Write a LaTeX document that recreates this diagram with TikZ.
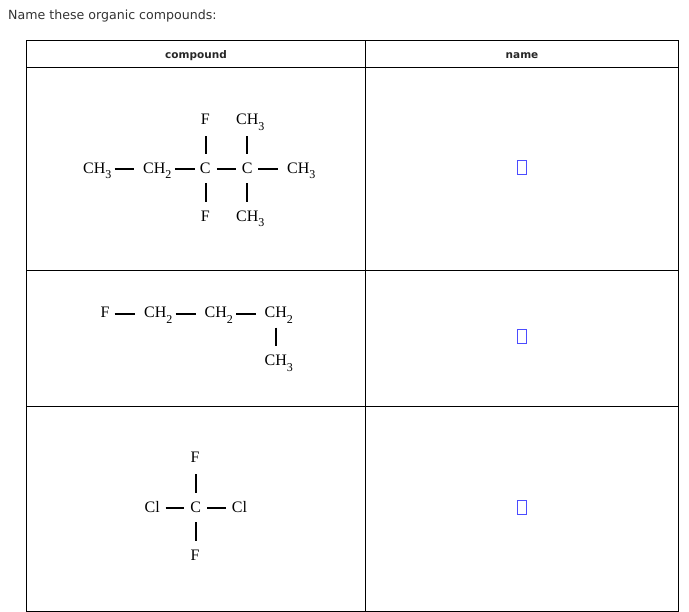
\documentclass[tikz,border=0pt]{standalone}
\usepackage{fontspec}
\setmainfont{Liberation Serif}
\setsansfont{DejaVu Sans}
\usetikzlibrary{positioning}
\newcommand{\chemsub}[1]{\raisebox{-5.5pt}{\fontsize{12}{12}\selectfont #1}}

\begin{document}
\begin{tikzpicture}[
    x=1pt, y=-1pt,
    node distance=48pt,
    atom/.style={
		inner sep=0pt,
		text height=10pt,
		text depth=2pt,
		font=\fontsize{16}{16}\selectfont
	},
	hbond/.style 2 args={
		line width=2.2pt,
		shorten <=#1pt,
		shorten >=#2pt
	},
	upbond/.style={
		line width=2.2pt,
		shorten <=9.3pt,
		shorten >=9pt
	},
	downbond/.style={
		line width=2.2pt,
		shorten <=7.7pt,
		shorten >=9pt
	},
	heading/.style={
		font=\sffamily\bfseries\fontsize{10.5}{10.5}\selectfont,
		text=black!85
	},
	answer/.style={
		rectangle,
		draw=blue!70,
		line width=1.2pt,
		inner sep=0pt,
		minimum width=8.5pt,
		minimum height=14pt
	}
  ]
  \useasboundingbox (0,0) rectangle (689,612);

  % the table
  \draw [line width=1pt] (26.5,40.5) rectangle (678.5,611);
  \draw [line width=1pt] (365.5,40.5) -- (365.5,611);
  \draw [line width=1pt] (26.5,67.5) -- (678.5,67.5);
  \draw [line width=1pt] (26.5,270.5) -- (678.5,270.5);
  \draw [line width=1pt] (26.5,406.5) -- (678.5,406.5);

  \node [anchor=west, inner sep=0pt, text=black!80, font=\sffamily\fontsize{12.6}{12.6}\selectfont] (title) at (8,16) {Name these organic compounds:};
  \node [heading] (compound) at (196,55.5) {compound};
  \node [heading] (name) at (522,55.5) {name};

  % first compound
  \node [atom] (me1) at (97.3,169.3) {CH\chemsub{3}};
  \node [atom, right of=me1, xshift=12pt] (ch1) {CH\chemsub{2}};
  \node [atom, right of=ch1] (c1) {C};
  \node [atom, right of=c1, xshift=-6pt] (c2) {C};
  \node [atom, right of=c2, xshift=6pt] (me2) {CH\chemsub{3}};
  \node [atom, above of=c1, yshift=0.5pt] (f1) {F};
  \node [atom, below of=c1] (f2) {F};
  \node [atom, above of=c2, xshift=3pt, yshift=0.5pt] (me3) {CH\chemsub{3}};
  \node [atom, below of=c2, xshift=3pt] (me4) {CH\chemsub{3}};

  \draw [hbond={3}{8.5}] (me1) -- (ch1);
  \draw [hbond={3.3}{5}] (ch1) -- (c1);
  \draw [hbond={6}{5.7}] (c1) -- (c2);
  \draw [hbond={5.6}{8.7}] (c2) -- (me2);
  \draw [upbond] ([xshift=1pt]c1.north) -- ([xshift=1pt]c1.north |- f1.south);
  \draw [downbond] ([xshift=1pt]c1.south) -- ([xshift=1pt]c1.south |- f2.north);
  \draw [upbond] (c2.north) -- (c2.north |- me3.south);
  \draw [downbond] (c2.south) -- (c2.south |- me4.north);

  \node [answer] (box1) at (522,167.5) {};

  % second compound
  \node [atom] (f3) at (105,313.7) {F};
  \node [atom, right of=f3, xshift=5.3pt] (ch2) {CH\chemsub{2}};
  \node [atom, right of=ch2, xshift=12.4pt] (ch3) {CH\chemsub{2}};
  \node [atom, right of=ch3, xshift=12.1pt] (ch4) {CH\chemsub{2}};
  \node [atom, below of=ch4] (me5) {CH\chemsub{3}};

  \draw [hbond={5}{9}] (f3) -- (ch2);
  \draw [hbond={3}{8.6}] (ch2) -- (ch3);
  \draw [hbond={3}{8.3}] (ch3) -- (ch4);
  \draw [downbond] ([xshift=-2.8pt]ch4.south) -- ([xshift=-2.8pt]ch4.south |- me5.north);

  \node [answer] (box2) at (522,336.6) {};

  % third compound
  \node [atom] (c3) at (195.7,508.3) {C};
  \node [atom, left of=c3, xshift=4.5pt] (cl1) {Cl};
  \node [atom, right of=c3, xshift=-4.2pt] (cl2) {Cl};
  \node [atom, above of=c3, xshift=-0.7pt, yshift=1.6pt] (f4) {F};
  \node [atom, below of=c3, xshift=-0.7pt] (f5) {F};

  \draw [hbond={5.7}{5.7}] (cl1) -- (c3);
  \draw [hbond={6}{6}] (c3) -- (cl2);
  \draw [upbond] ([xshift=0.6pt]c3.north) -- ([xshift=0.6pt]c3.north |- f4.south);
  \draw [downbond] ([xshift=0.6pt]c3.south) -- ([xshift=0.6pt]c3.south |- f5.north);

  \node [answer] (box3) at (522,507.5) {};

\end{tikzpicture}
\end{document}
